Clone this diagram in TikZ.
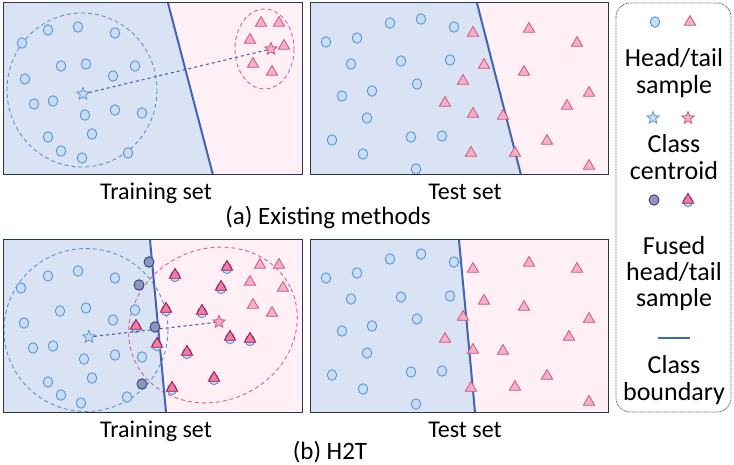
\documentclass[tikz,border=0pt]{standalone}
\usepackage{fontspec}
\setmainfont{Carlito}
\usetikzlibrary{shapes.geometric}
\definecolor{bgblue}{HTML}{DAE3F3}
\definecolor{bgpink}{HTML}{FFF0F5}
\definecolor{frame}{HTML}{2A3550}
\definecolor{bline}{HTML}{3F66B6}
\definecolor{cfill}{HTML}{C9DDF4}
\definecolor{cdraw}{HTML}{5A96D6}
\definecolor{tfill}{HTML}{F5AFC6}
\definecolor{tdraw}{HTML}{D0557F}
\definecolor{ffill}{HTML}{8D95BC}
\definecolor{fdraw}{HTML}{34437A}
\definecolor{ftfill}{HTML}{EC7FA5}
\definecolor{ftdraw}{HTML}{A8164C}
\definecolor{cline}{HTML}{4464A8}
\definecolor{bdash}{HTML}{5B8FD0}
\definecolor{pdash}{HTML}{D9608A}
\tikzset{
  hc/.style={ellipse, draw=cdraw, fill=cfill, line width=0.9pt, minimum width=9.5pt, minimum height=10.5pt, inner sep=0pt},
  tt/.style={regular polygon, regular polygon sides=3, draw=tdraw, fill=tfill, line width=0.8pt, minimum size=13pt, inner sep=0pt},
  fc/.style={ellipse, draw=fdraw, fill=ffill, line width=0.9pt, minimum width=10pt, minimum height=10.5pt, inner sep=0pt},
  ft/.style={regular polygon, regular polygon sides=3, draw=ftdraw, fill=ftfill, line width=0.9pt, minimum size=13pt, inner sep=0pt},
  bst/.style={star, star points=5, star point ratio=2.3, minimum size=13pt, inner sep=0pt, draw=cdraw, fill=cfill, line width=0.8pt},
  pst/.style={star, star points=5, star point ratio=2.3, minimum size=13pt, inner sep=0pt, draw=tdraw, fill=tfill, line width=0.8pt},
  panel/.style={draw=frame, line width=1pt},
  bound/.style={draw=bline, line width=2pt},
  cenline/.style={draw=cline, dashed, line width=1.1pt},
  bell/.style={draw=bdash, dash pattern=on 4pt off 3pt, line width=0.9pt},
  pell/.style={draw=pdash, dash pattern=on 4pt off 3pt, line width=0.9pt},
  setlab/.style={anchor=base, font=\fontsize{24}{28}\selectfont, inner sep=0pt},
  caplab/.style={anchor=base, font=\fontsize{25}{29}\selectfont, inner sep=0pt},
  leglab/.style={anchor=base, font=\fontsize{26}{30}\selectfont, inner sep=0pt},
}
\begin{document}
\begin{tikzpicture}[x=1pt,y=-1pt]
\useasboundingbox[fill=white] (0,0) rectangle (734,465);

% ---------------- Panel 1 ----------------
\begin{scope}
\clip (3,3) rectangle (302,175);
\fill[bgblue] (3,3) -- (168,3) -- (213,175) -- (3,175) -- cycle;
\fill[bgpink] (168,3) -- (302,3) -- (302,175) -- (213,175) -- cycle;
\draw[bell] (82,90) ellipse [x radius=75, y radius=77];
\draw[pell] (264.5,49) ellipse [x radius=29.5, y radius=40];
\foreach \x/\y [count=\i] in {22/43,48/30,78/27,115/33,61/66,86/64,135/66,25/79,113/76,34/104,53/101,85/115,115/110,142/113,92/134,48/137,61/151,82/158,128/153}
  \node[hc] (a\i) at (\x,\y) {};
\foreach \x/\y [count=\i] in {261/23,279/23,250/40,284/46,253/64,272/72}
  \node[tt] (at\i) at (\x,\y) {};
\coordinate (b1t) at (168,3);
\coordinate (b1b) at (213,175);
\draw[bound] (b1t) -- (b1b);
\node[bst] (s1b) at (83,94) {};
\node[pst] (s1p) at (271,49) {};
\draw[cenline] (s1b) -- (s1p);
\end{scope}
\draw[panel] (3,3) rectangle (302,175);

% ---------------- Panel 2 ----------------
\begin{scope}
\clip (310,3) rectangle (608,175);
\fill[bgblue] (310,3) -- (477,3) -- (521,175) -- (310,175) -- cycle;
\fill[bgpink] (477,3) -- (608,3) -- (608,175) -- (521,175) -- cycle;
\coordinate (b2t) at (477,3);
\coordinate (b2b) at (521,175);
\draw[bound] (b2t) -- (b2b);
\foreach \x/\y [count=\i] in {326/42,357/38,390/23,421/19,454/27,351/64,401/61,450/60,417/84,342/96,372/91,367/118,332/140,411/137,442/136,363/154,416/169}
  \node[hc] (b\i) at (\x,\y) {};
\foreach \x/\y [count=\i] in {473/33,484/65,463/81,445/103,473/114,503/116,471/153,515/153,529/29,577/43,524/72,589/93,567/106,547/141,589/166}
  \node[tt] (bt\i) at (\x,\y) {};
\end{scope}
\draw[panel] (310,3) rectangle (608,175);

\node[setlab] (lab1) at (156,200) {Training set};
\node[setlab] (lab2) at (465,200) {Test set};
\node[caplab] (capa) at (328,225) {(a) Existing methods};

% ---------------- Panel 3 ----------------
\begin{scope}
\clip (3,240) rectangle (302,412);
\fill[bgblue] (3,240) -- (150,240) -- (166,412) -- (3,412) -- cycle;
\fill[bgpink] (150,240) -- (302,240) -- (302,412) -- (166,412) -- cycle;
\draw[bell] (86,330) ellipse [x radius=82, y radius=81.5];
\draw[pell, rotate around={25:(213,325)}] (213,325) ellipse [x radius=86, y radius=76];
\foreach \x/\y [count=\i] in {21/288,48/276,78/271,115/278,60/311,86/308,135/310,24/323,113/320,33/348,53/346,84/359,115/355,142/357,92/378,48/382,61/395,81/403,127/397}
  \node[hc] (c\i) at (\x,\y) {};
\foreach \x/\y [count=\i] in {260/265,279/265,250/282,283/288,253/305,272/313}
  \node[tt] (ct\i) at (\x,\y) {};
\coordinate (b3t) at (150,240);
\coordinate (b3b) at (166,412);
\draw[bound] (b3t) -- (b3b);
\foreach \x/\y [count=\i] in {175/275,166/309,136/326,157/344,187/352,172/388,202/311,227/267,221/287,230/337,250/339,214/378}
  {\node[hc] (cfb\i) at (\x,\y+1.5) {};
   \node[ft] (cft\i) at (\x,\y) {};}
\node[bst] (s3b) at (89,337) {};
\node[pst] (s3p) at (219,322) {};
\draw[cenline] (s3b) -- (s3p);
\foreach \x/\y [count=\i] in {149/262,139/285,155/327,142/384}
  \node[fc] (cf\i) at (\x,\y) {};
\end{scope}
\draw[panel] (3,240) rectangle (302,412);

% ---------------- Panel 4 ----------------
\begin{scope}
\clip (310,240) rectangle (608,412);
\fill[bgblue] (310,240) -- (459,240) -- (475,412) -- (310,412) -- cycle;
\fill[bgpink] (459,240) -- (608,240) -- (608,412) -- (475,412) -- cycle;
\coordinate (b4t) at (459,240);
\coordinate (b4b) at (475,412);
\draw[bound] (b4t) -- (b4b);
\foreach \x/\y [count=\i] in {326/278,357/273,390/259,421/254,454/262,351/299,401/297,450/296,417/319,342/331,372/326,367/353,332/375,411/372,442/371,363/389,416/404}
  \node[hc] (d\i) at (\x,\y) {};
\foreach \x/\y [count=\i] in {473/269,484/301,463/317,445/339,473/350,503/351,471/388,515/387,529/263,577/269,524/307,589/319,569/337,547/376,589/402}
  \node[tt] (dt\i) at (\x,\y) {};
\end{scope}
\draw[panel] (310,240) rectangle (608,412);

\node[setlab] (lab3) at (156,437) {Training set};
\node[setlab] (lab4) at (465,437) {Test set};
\node[caplab] (capb) at (330,459) {(b) H2T};

% ---------------- Legend ----------------
\draw[draw=black!70, dash pattern=on 0.8pt off 0.8pt, line width=0.8pt, rounded corners=14pt] (616,3) rectangle (731,412);
\node[hc] (lc) at (655,22) {};
\node[tt] (lt) at (690,22) {};
\node[leglab] (l1a) at (674,67) {Head/tail};
\node[leglab] (l1b) at (674,94) {sample};
\node[bst] (lsb) at (653,118) {};
\node[pst] (lsp) at (688,118) {};
\node[leglab] (l2a) at (674,153) {Class};
\node[leglab] (l2b) at (674,180) {centroid};
\node[fc] (lfc) at (654,200) {};
\node[hc] (lfb) at (688,201.5) {};
\node[ft] (lft) at (688,200) {};
\node[leglab] (l3a) at (674,255) {Fused};
\node[leglab] (l3b) at (674,281) {head/tail};
\node[leglab] (l3c) at (674,306) {sample};
\coordinate (ll1) at (658,338);
\coordinate (ll2) at (690,338);
\draw[bound] (ll1) -- (ll2);
\node[leglab] (l4a) at (674,373) {Class};
\node[leglab] (l4b) at (674,400) {boundary};
\end{tikzpicture}
\end{document}
